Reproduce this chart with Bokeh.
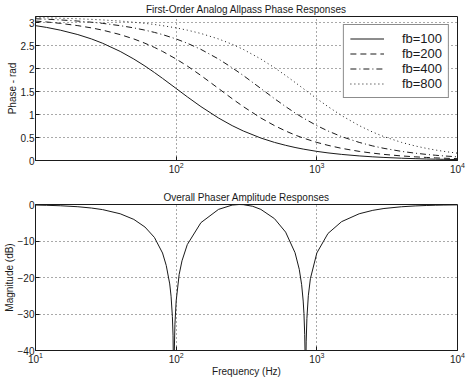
import math
from bokeh.plotting import figure
from bokeh.layouts import column
from bokeh.models import FixedTicker, Legend, LegendItem, Range1d
from bokeh.embed import file_html
from bokeh.resources import INLINE

# ---------------- data ----------------
freq = [10, 12, 15, 20, 25, 30, 40, 50, 60, 70, 80, 100, 120, 150, 200, 250,
        300, 400, 500, 600, 700, 800, 1000, 1200, 1500, 2000, 2500, 3000,
        4000, 5000, 6000, 7000, 8000, 10000]
phase_fb100 = [2.942, 2.903, 2.844, 2.747, 2.652, 2.558, 2.380, 2.214, 2.061,
               1.920, 1.792, 1.571, 1.389, 1.176, 0.927, 0.761, 0.644, 0.490,
               0.395, 0.331, 0.284, 0.249, 0.199, 0.166, 0.133, 0.100, 0.080,
               0.067, 0.050, 0.040, 0.033, 0.029, 0.025, 0.020]
phase_fb200 = [3.042, 3.022, 2.992, 2.942, 2.893, 2.844, 2.747, 2.652, 2.558,
               2.468, 2.380, 2.214, 2.061, 1.855, 1.571, 1.349, 1.176, 0.927,
               0.761, 0.644, 0.556, 0.490, 0.395, 0.331, 0.265, 0.199, 0.160,
               0.133, 0.100, 0.080, 0.067, 0.057, 0.050, 0.040]
phase_fb400 = [3.092, 3.082, 3.067, 3.042, 3.017, 2.992, 2.942, 2.893, 2.844,
               2.795, 2.747, 2.652, 2.558, 2.424, 2.214, 2.024, 1.855, 1.571,
               1.349, 1.176, 1.038, 0.927, 0.761, 0.644, 0.521, 0.395, 0.317,
               0.265, 0.199, 0.160, 0.133, 0.114, 0.100, 0.080]
phase_fb800 = [3.117, 3.112, 3.104, 3.092, 3.079, 3.067, 3.042, 3.017, 2.992,
               2.967, 2.942, 2.893, 2.844, 2.771, 2.652, 2.536, 2.424, 2.214,
               2.024, 1.855, 1.704, 1.571, 1.349, 1.176, 0.980, 0.761, 0.619,
               0.521, 0.395, 0.317, 0.265, 0.228, 0.199, 0.160]
legend_labels = ["fb=100", "fb=200", "fb=400", "fb=800"]

mag_freq = [10, 12, 15, 20, 25, 30, 40, 50, 60, 70, 80, 85, 90, 92, 94, 95,
            96, 96.2, 97, 98, 100, 105, 110, 120, 150, 200, 250, 280, 300,
            350, 400, 500, 600, 700, 750, 780, 800, 810, 820, 825, 831, 835,
            840, 850, 870, 900, 1000, 1200, 1500, 2000, 2500, 3000, 4000,
            5000, 6000, 7000, 8000, 10000]
mag_db = [-0.15, -0.22, -0.34, -0.61, -0.97, -1.40, -2.54, -4.08, -6.17,
          -9.01, -13.29, -16.7, -21.76, -25.13, -30.70, -35.83, -50.0, -70.0,
          -40.13, -32.8, -26.45, -19.18, -15.43, -10.98, -4.97, -1.34, -0.16,
          0.0, -0.04, -0.49, -1.34, -3.88, -7.57, -13.21, -17.75, -21.98,
          -26.45, -29.92, -35.67, -41.06, -70.0, -44.7, -37.64, -31.2, -25.0,
          -20.31, -13.28, -7.94, -4.70, -2.54, -1.60, -1.10, -0.62, -0.39,
          -0.27, -0.20, -0.15, -0.10]

top_xticks = [100, 1000, 10000]
bot_xticks = [10, 100, 1000, 10000]
top_yticks = [0, 0.5, 1, 1.5, 2, 2.5, 3]
bot_yticks = [-40, -30, -20, -10, 0]
top_ygrid = [0.5, 1, 1.5, 2, 2.5, 3]
bot_ygrid = [-30, -20, -10]
xgrid = [100, 1000]

FONT = "Liberation Sans"
INK = "#1a1a1a"


def style(p, xticks, yticks, ygrid):
    p.outline_line_color = INK
    p.outline_line_width = 1
    p.background_fill_color = "white"
    p.border_fill_color = "white"
    p.title.text_font = FONT
    p.title.text_font_size = "10px"
    p.title.text_font_style = "normal"
    p.title.text_color = INK
    p.title.align = "center"
    p.title.standoff = 3
    p.title.offset = 0
    for ax in p.xaxis + p.yaxis:
        ax.major_tick_in = 4
        ax.major_tick_out = 0
        ax.minor_tick_in = 0
        ax.minor_tick_out = 0
        ax.axis_line_color = INK
        ax.major_tick_line_color = INK
        ax.major_label_text_font = FONT
        ax.major_label_text_font_size = "10px"
        ax.major_label_text_color = INK
        ax.major_label_standoff = 1
        ax.axis_label_text_font = FONT
        ax.axis_label_text_font_size = "10px"
        ax.axis_label_text_font_style = "normal"
        ax.axis_label_text_color = INK
        ax.axis_label_standoff = 0
    p.xaxis.ticker = FixedTicker(ticks=xticks)
    p.yaxis.ticker = FixedTicker(ticks=yticks)
    for g in p.xgrid + p.ygrid:
        g.grid_line_color = INK
        g.grid_line_dash = "1 3"
        g.grid_line_alpha = 0.75
    p.xgrid.ticker = FixedTicker(ticks=xgrid)
    p.ygrid.ticker = FixedTicker(ticks=ygrid)


top = figure(width=466, height=175, x_axis_type="log",
             x_range=Range1d(10, 10000), y_range=Range1d(0, math.pi),
             output_backend="svg", toolbar_location=None,
             title="First-Order Analog Allpass Phase Responses",
             min_border_left=0, min_border_right=9, min_border_top=0,
             min_border_bottom=0)
top.yaxis.axis_label = "Phase - rad"
style(top, top_xticks, top_yticks, top_ygrid)

dashes = ["solid", "6 4", "6 3 1 3", "1 3"]
series = [phase_fb100, phase_fb200, phase_fb400, phase_fb800]
items = []
for lab, ys, d in zip(legend_labels, series, dashes):
    r = top.line(freq, ys, line_color=INK, line_width=1, line_dash=d)
    items.append(LegendItem(label=lab, renderers=[r]))

leg = Legend(items=items, location="top_right")
leg.margin = 8
leg.padding = 6
leg.spacing = 0
leg.glyph_width = 34
leg.glyph_height = 15
leg.label_height = 15
leg.label_standoff = 18
leg.label_text_font = FONT
leg.label_text_font_size = "13px"
leg.label_text_color = INK
leg.border_line_color = INK
leg.border_line_width = 1
leg.background_fill_color = "white"
leg.background_fill_alpha = 1
top.add_layout(leg)

bot = figure(width=466, height=204, x_axis_type="log",
             x_range=Range1d(10, 10000), y_range=Range1d(-40, 0),
             output_backend="svg", toolbar_location=None,
             title="Overall Phaser Amplitude Responses",
             min_border_left=0, min_border_right=9, min_border_top=29,
             min_border_bottom=0)
bot.yaxis.axis_label = "Magnitude (dB)"
bot.xaxis.axis_label = "Frequency (Hz)"
style(bot, bot_xticks, bot_yticks, bot_ygrid)
bot.line(mag_freq, mag_db, line_color=INK, line_width=1)

layout = column(top, bot, spacing=0)
open("out.html", "w").write(file_html(layout, INLINE))
